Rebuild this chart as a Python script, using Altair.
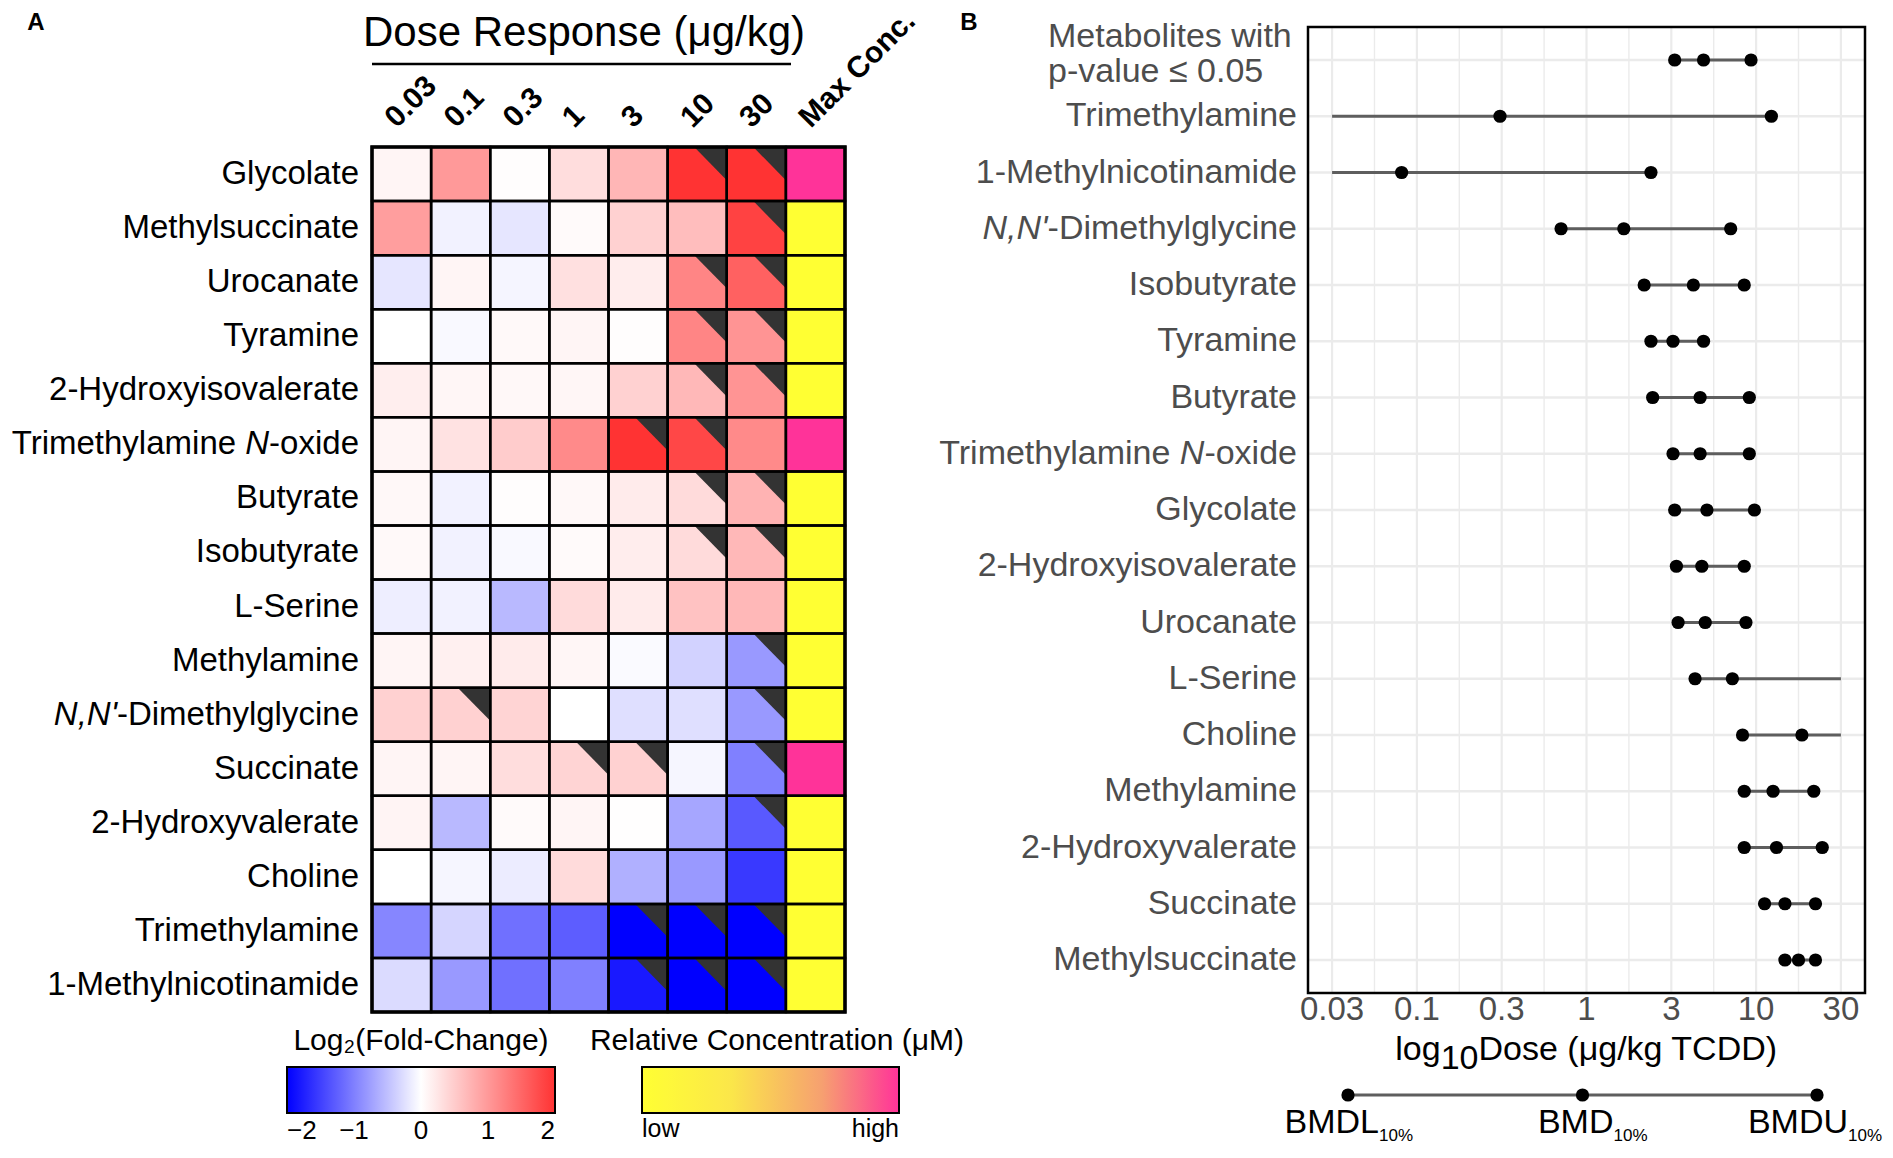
import altair as alt
import pandas as pd

FONT = "Liberation Sans"
W, H = 1877, 1137

# ---------------- Panel A data ----------------
doses = ["0.03", "0.1", "0.3", "1", "3", "10", "30"]
conc_col = "Max Conc."
metabolites_a = [
    "Glycolate", "Methylsuccinate", "Urocanate", "Tyramine", "2-Hydroxyisovalerate",
    "Trimethylamine N-oxide", "Butyrate", "Isobutyrate", "L-Serine", "Methylamine",
    "N,N'-Dimethylglycine", "Succinate", "2-Hydroxyvalerate", "Choline",
    "Trimethylamine", "1-Methylnicotinamide",
]
log2_fc = [
    [0.10, 1.00, 0.02, 0.33, 0.72, 2.00, 2.00],
    [0.95, -0.10, -0.20, 0.05, 0.45, 0.65, 1.85],
    [-0.20, 0.10, -0.08, 0.30, 0.18, 1.20, 1.55],
    [0.00, -0.05, 0.06, 0.10, 0.02, 1.20, 1.05],
    [0.17, 0.09, 0.07, 0.09, 0.45, 0.70, 1.05],
    [0.10, 0.28, 0.50, 1.15, 2.00, 1.80, 1.15],
    [0.07, -0.10, 0.02, 0.07, 0.20, 0.35, 0.75],
    [0.06, -0.10, -0.05, 0.05, 0.18, 0.35, 0.70],
    [-0.13, -0.10, -0.55, 0.35, 0.20, 0.60, 0.70],
    [0.10, 0.15, 0.20, 0.09, -0.04, -0.35, -0.80],
    [0.45, 0.45, 0.42, 0.00, -0.25, -0.25, -0.80],
    [0.10, 0.10, 0.33, 0.42, 0.45, -0.07, -1.00],
    [0.11, -0.55, 0.05, 0.10, 0.01, -0.70, -1.30],
    [0.00, -0.07, -0.15, 0.35, -0.62, -0.80, -1.55],
    [-0.95, -0.33, -1.12, -1.27, -2.00, -2.00, -2.00],
    [-0.28, -0.80, -1.12, -1.00, -1.80, -2.00, -2.00],
]
significant = [
    [0, 0, 0, 0, 0, 1, 1],
    [0, 0, 0, 0, 0, 0, 1],
    [0, 0, 0, 0, 0, 1, 1],
    [0, 0, 0, 0, 0, 1, 1],
    [0, 0, 0, 0, 0, 1, 1],
    [0, 0, 0, 0, 1, 1, 0],
    [0, 0, 0, 0, 0, 1, 1],
    [0, 0, 0, 0, 0, 1, 1],
    [0, 0, 0, 0, 0, 0, 0],
    [0, 0, 0, 0, 0, 0, 1],
    [0, 1, 0, 0, 0, 0, 1],
    [0, 0, 0, 1, 1, 0, 1],
    [0, 0, 0, 0, 0, 0, 1],
    [0, 0, 0, 0, 0, 0, 0],
    [0, 0, 0, 0, 1, 1, 1],
    [0, 0, 0, 0, 1, 1, 1],
]
max_conc = ["high", "low", "low", "low", "low", "high", "low", "low", "low", "low",
            "low", "high", "low", "low", "low", "low"]

# ---------------- Panel B data (log10 dose, ug/kg TCDD) ----------------
rows_b = [
    "Metabolites with p-value ≤ 0.05", "Trimethylamine", "1-Methylnicotinamide",
    "N,N'-Dimethylglycine", "Isobutyrate", "Tyramine", "Butyrate",
    "Trimethylamine N-oxide", "Glycolate", "2-Hydroxyisovalerate", "Urocanate",
    "L-Serine", "Choline", "Methylamine", "2-Hydroxyvalerate", "Succinate",
    "Methylsuccinate",
]
bmdl_log = [0.52, None, None, -0.15, 0.34, 0.38, 0.39, 0.51, 0.52, 0.53, 0.54,
            0.64, 0.92, 0.93, 0.93, 1.05, 1.17]
bmd_log = [0.69, -0.51, -1.09, 0.22, 0.63, 0.51, 0.67, 0.67, 0.71, 0.68, 0.70,
           0.86, 1.27, 1.10, 1.12, 1.17, 1.25]
bmdu_log = [0.97, 1.09, 0.38, 0.85, 0.93, 0.69, 0.96, 0.96, 0.99, 0.93, 0.94,
            None, None, 1.34, 1.39, 1.35, 1.35]
major_ticks = [-1.5, -1.0, -0.5, 0.0, 0.5, 1.0, 1.5]
tick_labels = ["0.03", "0.1", "0.3", "1", "3", "10", "30"]
minor_ticks = [-1.25, -0.75, -0.25, 0.25, 0.75, 1.25]
x_domain = [-1.642, 1.642]
bmd_key = ["BMDL", "BMD", "BMDU"]

# ---------------- helpers ----------------
ARIAL = {' ': 278, '-': 333, ',': 278, '.': 278, "'": 191, '(': 333, ')': 333, '/': 278,
         '%': 889, 'μ': 576,
         'a': 556, 'b': 556, 'c': 500, 'd': 556, 'e': 556, 'f': 278, 'g': 556, 'h': 556,
         'i': 222, 'j': 222, 'k': 500, 'l': 222, 'm': 833, 'n': 556, 'o': 556, 'p': 556,
         'q': 556, 'r': 333, 's': 500, 't': 278, 'u': 556, 'v': 500, 'w': 722, 'x': 500,
         'y': 500, 'z': 500, 'A': 667, 'B': 667, 'C': 722, 'D': 722, 'E': 667, 'F': 611,
         'G': 778, 'H': 722, 'I': 278, 'L': 556, 'M': 833, 'N': 722, 'O': 778, 'P': 667,
         'R': 722, 'S': 667, 'T': 611, 'U': 722}


def tw(s, fs):
    return sum(ARIAL.get(c, 556) for c in s) / 1000.0 * fs


def segments(label):
    if label == "Trimethylamine N-oxide":
        return [("Trimethylamine ", False), ("N", True), ("-oxide", False)]
    if label == "N,N'-Dimethylglycine":
        return [("N,N'", True), ("-Dimethylglycine", False)]
    return [(label, False)]


def label_layers(labels, yscale, x_px, fs, color):
    recs = []
    for lab in labels:
        off = 0.0
        for text, ital in reversed(segments(lab)):
            trail = len(text) - len(text.rstrip())
            recs.append({"row": lab, "text": text.strip(), "italic": bool(ital),
                         "dx": round(-(off + tw(" " * trail, fs)), 1)})
            off += tw(text, fs)
    df = pd.DataFrame(recs)
    layers = []
    for (ital, dx), g in df.groupby(["italic", "dx"]):
        layers.append(
            alt.Chart(g.reset_index(drop=True)).mark_text(
                align="right", baseline="middle", dx=float(dx), font=FONT, fontSize=fs,
                fontStyle="italic" if ital else "normal", color=color
            ).encode(
                x=alt.value(x_px),
                y=alt.Y("row:N", scale=yscale, axis=None),
                text="text:N",
            )
        )
    return layers


def note(text, x, y, fs, color="black", weight="normal", align="center", baseline="middle"):
    return alt.Chart(pd.DataFrame({"t": [text]})).mark_text(
        font=FONT, fontSize=fs, color=color, fontWeight=weight, align=align, baseline=baseline
    ).encode(x=alt.value(x), y=alt.value(y), text="t:N")


# ---------------- scales ----------------
cols_all = doses + [conc_col]
hm_x = alt.Scale(type="band", domain=cols_all, range=[364, 837], paddingInner=0, paddingOuter=0)
hm_y = alt.Scale(type="band", domain=metabolites_a, range=[139, 1004], paddingInner=0, paddingOuter=0)
bx = alt.Scale(domain=x_domain, range=[1300, 1857], nice=False, zero=False)
by = alt.Scale(type="point", domain=rows_b, range=[52, 952], padding=0)
kx = alt.Scale(type="point", domain=bmd_key, range=[1340, 1809], padding=0)

# ---------------- Panel A ----------------
hm_df = pd.DataFrame([
    {"metabolite": m, "dose": d, "fc": v, "sig": s}
    for m, fcs, sig in zip(metabolites_a, log2_fc, significant)
    for d, v, s in zip(doses, fcs, sig)
])
conc_df = pd.DataFrame({"metabolite": metabolites_a, "dose": conc_col,
                        "conc": [1.0 if c == "high" else 0.0 for c in max_conc]})
grid_df = pd.DataFrame([{"metabolite": m, "dose": d} for m in metabolites_a for d in cols_all])

heat = alt.Chart(hm_df).mark_rect().encode(
    x=alt.X("dose:N", scale=hm_x, axis=None),
    y=alt.Y("metabolite:N", scale=hm_y, axis=None),
    color=alt.Color(
        "fc:Q",
        scale=alt.Scale(domain=[-2, 0, 2], range=["#0000FF", "#FFFFFF", "#FF3333"],
                        interpolate="rgb", clamp=True),
        legend=alt.Legend(orient="none", legendX=279, legendY=1059, direction="horizontal",
                          title=None, padding=0, gradientLength=268, gradientThickness=46,
                          gradientStrokeColor="black", gradientStrokeWidth=2,
                          values=[-2, -1, 0, 1, 2], labelFont=FONT, labelFontSize=26,
                          labelColor="black", labelOffset=5, labelAlign="center",
                          labelOverlap=False),
    ),
)
conc = alt.Chart(conc_df).mark_rect().encode(
    x=alt.X("dose:N", scale=hm_x, axis=None),
    y=alt.Y("metabolite:N", scale=hm_y, axis=None),
    fill=alt.Fill(
        "conc:Q",
        scale=alt.Scale(domain=[0, 0.35, 0.7, 1], range=["#FFFF33", "#FBE64A", "#F6A070", "#FF3399"],
                        interpolate="rgb"),
        legend=alt.Legend(orient="none", legendX=634, legendY=1059, direction="horizontal",
                          title=None, padding=0, gradientLength=257, gradientThickness=46,
                          gradientStrokeColor="black", gradientStrokeWidth=2,
                          values=[0, 1], labelExpr="datum.value == 0 ? 'low' : 'high'",
                          labelFont=FONT, labelFontSize=25, labelColor="black",
                          labelOffset=4, labelOverlap=False),
    ),
)
TRI = "M-0.1,-0.914L1,-0.914L1,0.21Z"
tri = alt.Chart(hm_df[hm_df["sig"] == 1].reset_index(drop=True)).mark_point(
    shape=TRI, size=3496, filled=True, color="#333333", opacity=1, strokeWidth=0
).encode(
    x=alt.X("dose:N", scale=hm_x, axis=None),
    y=alt.Y("metabolite:N", scale=hm_y, axis=None),
)
cell_borders = alt.Chart(grid_df).mark_rect(filled=False, color="black", strokeWidth=2.5).encode(
    x=alt.X("dose:N", scale=hm_x, axis=None),
    y=alt.Y("metabolite:N", scale=hm_y, axis=None),
)
hm_frame = alt.Chart(pd.DataFrame({"t": [0]})).mark_rect(filled=False, color="black", strokeWidth=3.5).encode(
    x=alt.value(364), x2=alt.value(837), y=alt.value(139), y2=alt.value(1004)
)
headers = alt.Chart(pd.DataFrame({"col": cols_all})).mark_text(
    align="left", baseline="alphabetic", angle=315, font=FONT, fontSize=30,
    fontWeight="bold", color="black"
).encode(
    x=alt.X("col:N", scale=hm_x, axis=None, bandPosition=0.42),
    y=alt.value(121),
    text="col:N",
)
title_a = note("Dose Response (μg/kg)", 576, 25, 42)
underline = alt.Chart(pd.DataFrame({"t": [0]})).mark_rule(color="black", strokeWidth=2.5).encode(
    x=alt.value(364), x2=alt.value(783), y=alt.value(56)
)
left_labels = label_layers(metabolites_a, hm_y, 351, 33, "black")
leg1_title = note("Log₂(Fold-Change)", 413, 1033, 30)
leg2_title = note("Relative Concentration (μM)", 769, 1033, 30)
lab_a = note("A", 28, 15, 24, weight="bold")
lab_b = note("B", 961, 15, 24, weight="bold")

# ---------------- Panel B ----------------
vgrid = alt.Chart(pd.DataFrame({"t": major_ticks + minor_ticks,
                                "kind": ["major"] * len(major_ticks) + ["minor"] * len(minor_ticks)})
                  ).mark_rule(color="#EBEBEB").encode(
    x=alt.X("t:Q", scale=bx, axis=None),
    y=alt.value(19), y2=alt.value(985),
    strokeWidth=alt.StrokeWidth("kind:N", scale=alt.Scale(domain=["major", "minor"], range=[2.2, 1.4]),
                                legend=None),
)
hgrid = alt.Chart(pd.DataFrame({"row": rows_b})).mark_rule(color="#EBEBEB", strokeWidth=2.4).encode(
    y=alt.Y("row:N", scale=by, axis=None), x=alt.value(1300), x2=alt.value(1857)
)
rng_df = pd.DataFrame({
    "row": rows_b,
    "lo": [v if v is not None else major_ticks[0] for v in bmdl_log],
    "hi": [v if v is not None else major_ticks[-1] for v in bmdu_log],
})
ranges = alt.Chart(rng_df).mark_rule(color="#5E5E5E", strokeWidth=3).encode(
    x=alt.X("lo:Q", scale=bx, axis=None), x2="hi:Q",
    y=alt.Y("row:N", scale=by, axis=None),
)
pts_df = pd.DataFrame([{"row": r, "v": v} for r, a, b, c in zip(rows_b, bmdl_log, bmd_log, bmdu_log)
                       for v in (a, b, c) if v is not None])
dots = alt.Chart(pts_df).mark_circle(color="black", size=175, opacity=1).encode(
    x=alt.X("v:Q", scale=bx, axis=None),
    y=alt.Y("row:N", scale=by, axis=None),
)
b_frame = alt.Chart(pd.DataFrame({"t": [0]})).mark_rect(filled=False, color="black", strokeWidth=2.5).encode(
    x=alt.value(1300), x2=alt.value(1857), y=alt.value(19), y2=alt.value(985)
)
right_labels = label_layers(rows_b[1:], by, 1289, 34, "#4D4D4D")
summary_label = alt.Chart(pd.DataFrame({"row": [rows_b[0]]})).mark_text(
    align="left", baseline="middle", lineHeight=35, dy=-23, font=FONT, fontSize=34, color="#4D4D4D"
).encode(
    x=alt.value(1040),
    y=alt.Y("row:N", scale=by, axis=None),
    text=alt.value(["Metabolites with", "p-value ≤ 0.05"]),
)
xticks = alt.Chart(pd.DataFrame({"t": major_ticks, "lab": tick_labels})).mark_text(
    align="center", baseline="middle", font=FONT, fontSize=33, color="#4D4D4D"
).encode(x=alt.X("t:Q", scale=bx, axis=None), y=alt.value(1002), text="lab:N")

xt_fs = 34
xt_parts = ["log", "10", "Dose (μg/kg TCDD)"]
xt_total = sum(tw(p, xt_fs) for p in xt_parts)
xt_start = (1300 + 1857) / 2 - xt_total / 2
xt_layers = []
pos = xt_start
for i, p in enumerate(xt_parts):
    xt_layers.append(
        alt.Chart(pd.DataFrame({"t": [p]})).mark_text(
            align="left", baseline="middle", font=FONT, fontSize=xt_fs, color="black",
            dy=9 if i == 1 else 0
        ).encode(x=alt.value(round(pos, 1)), y=alt.value(1042), text="t:N")
    )
    pos += tw(p, xt_fs)

# BMD key
key_line = alt.Chart(pd.DataFrame({"a": [bmd_key[0]], "b": [bmd_key[-1]]})).mark_rule(
    color="#5E5E5E", strokeWidth=3
).encode(x=alt.X("a:N", scale=kx, axis=None), x2="b:N", y=alt.value(1087))
key_df = pd.DataFrame({"k": bmd_key, "sub": ["10%"] * 3})
key_dots = alt.Chart(key_df).mark_circle(color="black", size=175, opacity=1).encode(
    x=alt.X("k:N", scale=kx, axis=None), y=alt.value(1087)
)
key_text = alt.Chart(key_df).mark_text(
    align="right", baseline="middle", dx=31, font=FONT, fontSize=34, color="black"
).encode(x=alt.X("k:N", scale=kx, axis=None), y=alt.value(1115), text="k:N")
key_sub = alt.Chart(key_df).mark_text(
    align="left", baseline="middle", dx=31, font=FONT, fontSize=17, color="black"
).encode(x=alt.X("k:N", scale=kx, axis=None), y=alt.value(1128), text="sub:N")

layers = [vgrid, hgrid, ranges, dots, b_frame] + right_labels + [summary_label, xticks] + xt_layers + \
         [key_line, key_dots, key_text, key_sub] + \
         [heat, conc, tri, cell_borders, hm_frame, headers, title_a, underline] + left_labels + \
         [leg1_title, leg2_title, lab_a, lab_b]

chart = alt.layer(*layers).resolve_scale(
    x="independent", y="independent"
).properties(
    width=W, height=H, padding=0, autosize=alt.AutoSizeParams(type="none")
).configure(font=FONT).configure_view(stroke=None)

chart.save("out.html", embed_options={"renderer": "svg", "actions": False})
